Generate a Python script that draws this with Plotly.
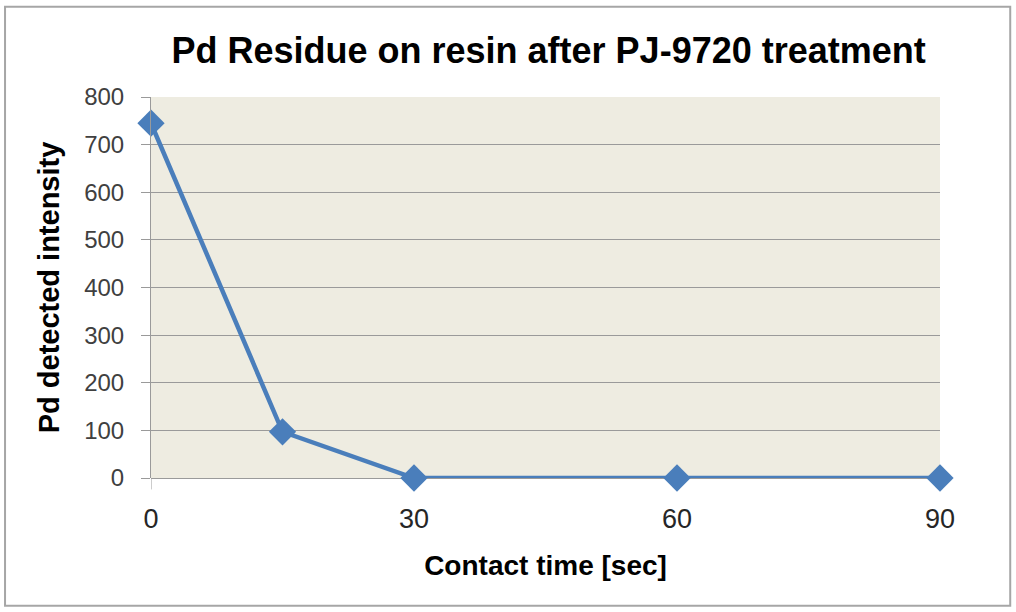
import plotly.graph_objects as go

contact_time = [0, 15, 30, 60, 90]
pd_intensity = [745, 97, 0, 0, 0]
x_ticks = [0, 30, 60, 90]
y_ticks = [0, 100, 200, 300, 400, 500, 600, 700, 800]

blue = "#4A7EBB"
fig = go.Figure()
fig.add_trace(go.Scatter(
    x=contact_time, y=pd_intensity, mode="lines+markers",
    line=dict(color=blue, width=4.5),
    marker=dict(symbol="diamond", size=21, color=blue),
    cliponaxis=False, showlegend=False,
))

fig.update_layout(
    width=1016, height=612,
    margin=dict(l=151, r=76, t=97, b=134),
    paper_bgcolor="white", plot_bgcolor="#EEECE1",
    title=dict(text="<b>Pd Residue on resin after PJ-9720 treatment</b>",
               x=0.54, xanchor="center", y=0.918, yanchor="middle",
               font=dict(family="Liberation Sans, Arial", size=36, color="black")),
    xaxis=dict(range=[0, 90], tickvals=x_ticks, showgrid=False, zeroline=False,
               showline=False, ticks="", ticklabelstandoff=22,
               tickfont=dict(family="Liberation Sans, Arial", size=27, color="#262626"),
               title=dict(text="<b>Contact time [sec]</b>", standoff=22,
                          font=dict(family="Liberation Sans, Arial", size=28, color="black"))),
    yaxis=dict(range=[0, 800], tickvals=y_ticks, showgrid=True, gridcolor="#9A9A9A",
               gridwidth=1, zeroline=True, zerolinecolor="#9A9A9A", zerolinewidth=1,
               showline=True, linecolor="#9A9A9A", linewidth=1,
               ticks="outside", ticklen=9, tickcolor="#9A9A9A", ticklabelstandoff=12,
               tickfont=dict(family="Liberation Sans, Arial", size=24, color="#404040"),
               title=dict(text="<b>Pd detected intensity</b>", standoff=16,
                          font=dict(family="Liberation Sans, Arial", size=29, color="black"))),
)

# y-axis line extension below zero
fig.add_shape(type="line", xref="x", yref="y domain", x0=0, x1=0, y0=0, y1=-0.03,
              line=dict(color="#9A9A9A", width=1), layer="below")
# outer frame
fig.add_shape(type="rect", xref="paper", yref="paper", x0=-0.185, x1=1.089, y0=-0.335, y1=1.237,
              line=dict(color="#A6A6A6", width=2), fillcolor="rgba(0,0,0,0)")

fig.write_html("out.html")
